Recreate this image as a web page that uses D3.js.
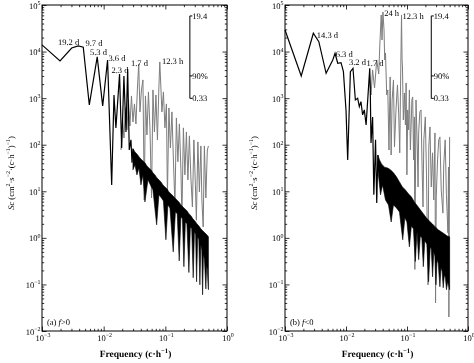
<!DOCTYPE html>
<html>
<head>
<meta charset="utf-8">
<script src="https://cdn.jsdelivr.net/npm/d3@7"></script>
<style>
  body { margin: 0; background: #fff; }
  svg { transform: translateZ(0); }
  text { font-family: "Liberation Serif", "Times New Roman", serif; fill: #000; text-rendering: geometricPrecision; }
</style>
</head>
<body>
<svg id="chart" width="474" height="363"></svg>
<script>
// ---- axis ticks ----
var xTicks = [1e-3, 1e-2, 1e-1, 1];
var xTickExp = ["\u22123", "\u22122", "\u22121", "0"];
var yTicks = [1e-2, 1e-1, 1, 1e1, 1e2, 1e3, 1e4, 1e5];
var yTickExp = ["\u22122", "\u22121", "0", "1", "2", "3", "4", "5"];

// ---- (a) f>0 : frequency (c/h) and spectrum ----
var leftLowF = [0.001, 0.00196, 0.00303, 0.00387, 0.00467, 0.00585, 0.00786, 0.00964, 0.01157, 0.01349, 0.0147, 0.0158, 0.0181, 0.0196, 0.0213, 0.0230, 0.0245, 0.0260, 0.0277, 0.0288, 0.0299];
var leftLowS = [13900, 6300, 11900, 13200, 12400, 715, 7700, 680, 6600, 13.7, 1170, 230, 3300, 85, 3000, 188, 4240, 77, 127, 41, 82];

// dense high-frequency part, upper and lower edge
var leftTopF = [0.02985, 0.03216, 0.03465, 0.03876, 0.04176, 0.04671, 0.05033, 0.05422, 0.05843, 0.06295, 0.06783, 0.07308, 0.07874, 0.08484, 0.09141, 0.09848, 0.1061, 0.1143, 0.1232, 0.1327, 0.1430, 0.1541, 0.1660, 0.1789, 0.1927, 0.2076, 0.2237, 0.2410, 0.2597, 0.2798, 0.3015, 0.3248, 0.3500, 0.3771, 0.4063, 0.4377, 0.4716, 0.5];
var leftTopS = [82, 70, 63, 52, 47, 41, 35, 31.8, 29, 25, 22.5, 19.4, 17.6, 15.9, 13.7, 12.4, 11.3, 9.7, 8.8, 8.0, 7.2, 6.5, 5.9, 5.1, 4.6, 4.2, 3.8, 3.3, 3.0, 2.56, 2.3, 2.0, 1.8, 1.56, 1.41, 1.28, 1.16, 1.05];
var leftBotF = [0.02985, 0.03216, 0.03465, 0.03734, 0.04023, 0.04335, 0.04671, 0.05224, 0.05843, 0.06295, 0.0723, 0.07874, 0.0865, 0.0931, 0.1022, 0.1101, 0.1187, 0.1342, 0.1457, 0.1558, 0.1679, 0.1789, 0.1892, 0.2000, 0.2115, 0.2237, 0.2410, 0.2549, 0.2676, 0.2830, 0.2970, 0.3094, 0.3212, 0.3347, 0.3487, 0.3633, 0.3771, 0.3900, 0.4018, 0.4155, 0.4312, 0.4543, 0.4681, 0.4800, 0.4946, 0.5];
var leftBotS = [29, 37, 22.5, 31.8, 13.7, 22.5, 5.9, 17.6, 13, 10.7, 1.9, 8.4, 7.2, 6.2, 0.91, 5.1, 4.4, 0.50, 3.6, 3.3, 0.32, 2.8, 2.56, 0.24, 2.2, 2.0, 0.18, 1.72, 1.56, 0.139, 1.35, 1.2, 0.114, 1.05, 0.91, 0.098, 0.71, 0.55, 0.060, 0.45, 0.34, 0.080, 0.26, 0.21, 0.089, 0.077];

var leftGrayF = [0.01907, 0.02017, 0.02133, 0.02256, 0.02385, 0.02522, 0.02668, 0.02822, 0.02985, 0.03157, 0.03338, 0.03530, 0.03703, 0.03876, 0.04099, 0.04335, 0.04552, 0.04759, 0.05033, 0.05322, 0.05629, 0.05976, 0.06295, 0.06657, 0.07040, 0.07446, 0.07874, 0.0813, 0.08806, 0.09313, 0.09848, 0.1041, 0.1081, 0.1143, 0.1209, 0.1279, 0.1352, 0.1430, 0.1512, 0.1599, 0.1691, 0.1789, 0.1857, 0.1963, 0.2076, 0.2196, 0.2322, 0.2456, 0.2597, 0.2747, 0.2904, 0.3071, 0.3188, 0.3372, 0.3566, 0.3771, 0.3914, 0.4110, 0.4297, 0.4543, 0.4800, 0.5];
var leftGrayS = [77, 376, 140, 616, 208, 915, 253, 1115, 308, 751, 280, 1650, 5420, 506, 1500, 2460, 6.5, 1115, 162, 1360, 230, 7.2, 1500, 188, 1170, 127, 1830, 5980, 506, 1360, 230, 751, 7.6, 616, 85, 506, 47, 5.1, 376, 43, 280, 29, 2.8, 230, 22.5, 188, 17.6, 155, 19.4, 4.6, 127, 13.7, 2.4, 115, 9.7, 94, 6.5, 1.72, 94, 7.2, 77, 94];

var leftPeakText = ["19.2 d", "9.7 d", "5.3 d", "3.6 d", "2.3 d", "1.7 d", "12.3 h"];
var leftPeakF = [0.001816, 0.00507, 0.0060, 0.01196, 0.01338, 0.0277, 0.0881];
var leftPeakS = [13900, 12900, 8250, 6130, 3470, 4910, 5290];

// ---- (b) f<0 ----
var rightLowF = [0.001, 0.001845, 0.002914, 0.003586, 0.004718, 0.006067, 0.00661, 0.007322, 0.008286, 0.00907, 0.0100, 0.01066, 0.0118, 0.01302, 0.01424, 0.01552, 0.01654, 0.01757, 0.01873, 0.01996, 0.02136, 0.0245, 0.0250, 0.0257, 0.0273, 0.0286, 0.0305, 0.0319, 0.0333];
var rightLowS = [29100, 2990, 24700, 16300, 3420, 6600, 9190, 5610, 5780, 3700, 558, 47, 3700, 4380, 915, 995, 657, 841, 436, 558, 266, 4380, 1500, 109, 395, 8.4, 127, 5.6, 60];

var rightTopF = [0.0333, 0.03546, 0.03823, 0.04279, 0.04790, 0.05361, 0.06001, 0.06718, 0.07519, 0.08414, 0.09417, 0.1054, 0.1180, 0.1320, 0.1478, 0.1654, 0.1852, 0.2073, 0.2320, 0.2597, 0.2906, 0.3252, 0.3640, 0.4073, 0.4560, 0.5];
var rightTopS = [60, 47, 38.7, 33, 31.8, 29, 25, 20.4, 15.9, 12.4, 10.7, 8.8, 7.6, 5.9, 4.9, 4.0, 3.3, 2.7, 2.3, 2.0, 1.72, 1.49, 1.35, 1.22, 1.10, 1.05];
var rightBotF = [0.0333, 0.03682, 0.03969, 0.04443, 0.04973, 0.0550, 0.06001, 0.06718, 0.07519, 0.0851, 0.0924, 0.0996, 0.1094, 0.1180, 0.1272, 0.1371, 0.1460, 0.1553, 0.1654, 0.1751, 0.1852, 0.1959, 0.2112, 0.2260, 0.2408, 0.2500, 0.2626, 0.2746, 0.2862, 0.2984, 0.3109, 0.3252, 0.3463, 0.3611, 0.3765, 0.3923, 0.4103, 0.4260, 0.4440, 0.4647, 0.4790, 0.5];
var rightBotS = [29, 8.4, 13.7, 6.5, 5.1, 2.2, 5.1, 4.4, 3.6, 0.91, 2.7, 2.2, 0.64, 1.8, 1.56, 0.31, 1.35, 0.34, 1.10, 1.0, 0.24, 0.86, 0.74, 0.114, 0.64, 0.58, 0.146, 0.50, 0.41, 0.098, 0.34, 0.28, 0.089, 0.23, 0.19, 0.085, 0.161, 0.139, 0.077, 0.114, 0.098, 0.077];

var rightGrayF = [0.02435, 0.02576, 0.02726, 0.02939, 0.03190, 0.03440, 0.03613, 0.03779, 0.03896, 0.04028, 0.04200, 0.04312, 0.04443, 0.04648, 0.04845, 0.05064, 0.05292, 0.05494, 0.05704, 0.06001, 0.06232, 0.06636, 0.06975, 0.07322, 0.07603, 0.0790, 0.0813, 0.0830, 0.0843, 0.0871, 0.0907, 0.0942, 0.0967, 0.0996, 0.1027, 0.1062, 0.1094, 0.1136, 0.1167, 0.1203, 0.1240, 0.1282, 0.1320, 0.1345, 0.1405, 0.1478, 0.1518, 0.1553, 0.1623, 0.1699, 0.1770, 0.1830, 0.1887, 0.1996, 0.2088, 0.2212, 0.2277, 0.2381, 0.2500, 0.2626, 0.2746, 0.2874, 0.2938, 0.3017, 0.3168, 0.3314, 0.3463, 0.3640, 0.3880, 0.4000, 0.4229, 0.4425, 0.4690, 0.4790, 0.4860, 0.5];
var rightGrayS = [3150, 1170, 4030, 1650, 6600, 3300, 17700, 61000, 17700, 70800, 29100, 6600, 9330, 1170, 1500, 77, 2850, 60, 915, 2460, 90, 647, 1920, 436, 67, 4030, 61000, 6600, 4680, 340, 1290, 266, 2120, 22.5, 558, 208, 1500, 77, 241, 915, 1060, 47, 395, 0.21, 915, 77, 12.4, 179, 506, 558, 29, 4.6, 127, 395, 22.5, 0.098, 90, 241, 12.4, 67, 6.5, 179, 0.040, 7.6, 47, 127, 147, 10.7, 3.4, 37, 127, 8.4, 1.28, 33, 0.020, 147];

var rightPeakText = ["14.3 d", "6.3 d", "3.2 d", "1.7 d", "24 h", "12.3 h"];
var rightPeakF = [0.003327, 0.00679, 0.01119, 0.02176, 0.0423, 0.08414];
var rightPeakS = [19600, 7660, 5150, 4910, 58950, 50060];

// 90% confidence bar
var confText = ["19.4", "90%", "0.33"];
var confRatio = [19.4, 1, 0.33];
var confBase = 3000;
var confF = 0.25;

var svg = d3.select("#chart");

function pts(F, S) {
    return F.map(function (f, i) { return [f, S[i]]; });
}

// text with superscripts / italics: parts = [[string, sup, italic], ...]
function rich(sel, parts, size) {
    var prevSup = false;
    parts.forEach(function (p) {
        var t = sel.append("tspan").text(p[0]);
        if (p[1]) {
            t.attr("font-size", size * 0.7);
            if (!prevSup) t.attr("dy", -size * 0.42);
        } else if (prevSup) {
            t.attr("dy", size * 0.42);
        }
        if (p[2]) t.attr("font-style", "italic");
        prevSup = !!p[1];
    });
}

function drawPanel(p) {
    var x = d3.scaleLog().domain([1e-3, 1]).range([p.x0, p.x1]);
    var y = d3.scaleLog().domain([1e-2, 1e5]).range([331, 5]);
    var line = d3.line().x(function (d) { return x(d[0]); }).y(function (d) { return y(d[1]); });
    var g = svg.append("g");

    g.append("rect").attr("x", p.x0).attr("y", 5)
        .attr("width", p.x1 - p.x0).attr("height", 326).attr("fill", "#fff");

    // gray spectrum
    g.append("path").attr("d", line(pts(p.grayF, p.grayS)))
        .attr("fill", "none").attr("stroke", "#7c7c7c").attr("stroke-width", 1);

    // black spectrum: low-frequency line + dense band
    g.append("path").attr("d", line(pts(p.lowF, p.lowS)))
        .attr("fill", "none").attr("stroke", "#000").attr("stroke-width", 1.2)
        .attr("stroke-linejoin", "miter");
    var band = pts(p.topF, p.topS).concat(pts(p.botF, p.botS).reverse());
    g.append("path").attr("d", line(band) + "Z")
        .attr("fill", "#000").attr("stroke", "#000").attr("stroke-width", 0.6);

    // axes: ticks inward on all four sides
    var xMinor = [], yMinor = [];
    [1e-3, 1e-2, 1e-1].forEach(function (d) { for (var k = 2; k < 10; k++) xMinor.push(d * k); });
    [1e-2, 1e-1, 1, 1e1, 1e2, 1e3, 1e4].forEach(function (d) { for (var k = 2; k < 10; k++) yMinor.push(d * k); });

    function ax(axisFn, scale, vals, size, tr) {
        var a = g.append("g").attr("transform", tr)
            .call(axisFn(scale).tickValues(vals).tickSize(size).tickFormat(""));
        a.select(".domain").remove();
        a.selectAll("line").attr("stroke", "#000").attr("stroke-width", 0.8);
    }
    ax(d3.axisBottom, x, xTicks, -4.5, "translate(0,331)");
    ax(d3.axisBottom, x, xMinor, -2.2, "translate(0,331)");
    ax(d3.axisTop, x, xTicks, -4.5, "translate(0,5)");
    ax(d3.axisTop, x, xMinor, -2.2, "translate(0,5)");
    ax(d3.axisLeft, y, yTicks, -4.5, "translate(" + p.x0 + ",0)");
    ax(d3.axisLeft, y, yMinor, -2.2, "translate(" + p.x0 + ",0)");
    ax(d3.axisRight, y, yTicks, -4.5, "translate(" + p.x1 + ",0)");
    ax(d3.axisRight, y, yMinor, -2.2, "translate(" + p.x1 + ",0)");

    g.append("rect").attr("x", p.x0).attr("y", 5)
        .attr("width", p.x1 - p.x0).attr("height", 326)
        .attr("fill", "none").attr("stroke", "#000").attr("stroke-width", 1);

    // tick labels
    xTicks.forEach(function (v, i) {
        var t = g.append("text").attr("x", x(v) + 1).attr("y", 341)
            .attr("text-anchor", "middle").attr("font-size", 8.5);
        rich(t, [["10", 0], [xTickExp[i], 1]], 8.5);
    });
    yTicks.forEach(function (v, i) {
        var t = g.append("text").attr("x", p.x0 - 1.5).attr("y", y(v) + 3.5)
            .attr("text-anchor", "end").attr("font-size", 8.5);
        rich(t, [["10", 0], [yTickExp[i], 1]], 8.5);
    });

    // axis titles
    var xt = g.append("text").attr("x", (p.x0 + p.x1) / 2 + 1).attr("y", 357)
        .attr("text-anchor", "middle").attr("font-size", 9.5).attr("font-weight", "bold");
    rich(xt, [["Frequency (c\u00b7h", 0], ["\u22121", 1], [")", 0]], 9.5);

    var yt = g.append("text")
        .attr("transform", "translate(" + (p.x0 - 28) + ",173) rotate(-90)")
        .attr("text-anchor", "middle").attr("font-size", 8.5);
    rich(yt, [["Sc", 0, 1], [" (cm", 0], ["2", 1], ["\u00b7s", 0], ["\u22122", 1],
        ["\u00b7(c\u00b7h", 0], ["\u22121", 1], [")", 0], ["\u22121", 1], [")", 0]], 8.5);

    // peak labels
    p.peakText.forEach(function (s, i) {
        g.append("text").attr("x", x(p.peakF[i])).attr("y", y(p.peakS[i]))
            .attr("font-size", 8.5).text(s);
    });

    // confidence bar
    var cx = x(confF);
    g.append("line").attr("x1", cx).attr("x2", cx)
        .attr("y1", y(confBase * confRatio[0])).attr("y2", y(confBase * confRatio[2]))
        .attr("stroke", "#000").attr("stroke-width", 1);
    confRatio.forEach(function (r, i) {
        var cy = y(confBase * r);
        g.append("line").attr("x1", cx).attr("x2", cx + 2.5).attr("y1", cy).attr("y2", cy)
            .attr("stroke", "#000").attr("stroke-width", 1);
        g.append("text").attr("x", cx + 2.5).attr("y", cy + 3)
            .attr("font-size", 8.5).text(confText[i]);
    });

    // panel label
    var pl = g.append("text").attr("x", p.x0 + 5).attr("y", 325).attr("font-size", 8.5);
    rich(pl, [[p.tag + " ", 0], ["f", 0, 1], [p.sign + "0", 0]], 8.5);
}

drawPanel({
    x0: 42, x1: 227, tag: "(a)", sign: ">",
    lowF: leftLowF, lowS: leftLowS, topF: leftTopF, topS: leftTopS,
    botF: leftBotF, botS: leftBotS, grayF: leftGrayF, grayS: leftGrayS,
    peakText: leftPeakText, peakF: leftPeakF, peakS: leftPeakS
});
drawPanel({
    x0: 285, x1: 468, tag: "(b)", sign: "<",
    lowF: rightLowF, lowS: rightLowS, topF: rightTopF, topS: rightTopS,
    botF: rightBotF, botS: rightBotS, grayF: rightGrayF, grayS: rightGrayS,
    peakText: rightPeakText, peakF: rightPeakF, peakS: rightPeakS
});
</script>
</body>
</html>
